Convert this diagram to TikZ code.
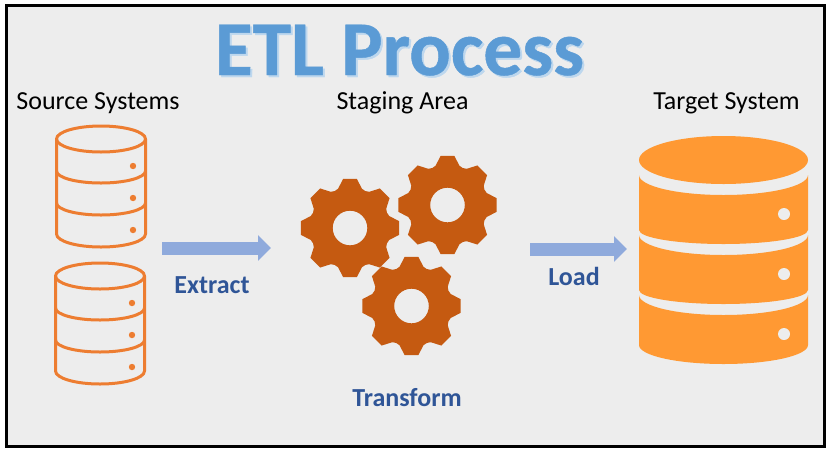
\documentclass[tikz,border=0pt]{standalone}
\usepackage{fontspec}
\setmainfont{Carlito}
\usetikzlibrary{arrows.meta}
\definecolor{bgc}{HTML}{EDEDED}
\definecolor{lineor}{HTML}{ED7D31}
\definecolor{gearc}{HTML}{C55A11}
\definecolor{bigdb}{HTML}{FF9933}
\definecolor{arrowc}{HTML}{8FAADC}
\definecolor{labelc}{HTML}{2F5597}
\definecolor{titlec}{HTML}{5B9BD5}
\definecolor{titles}{HTML}{BDD7EE}
\newfontfamily\titlefont[FakeBold=0.6]{Carlito Bold}
\tikzset{
  head/.style={font=\fontsize{26}{28}\selectfont,text=black,inner sep=0pt,anchor=base},
  tag/.style={font=\fontsize{26}{28}\selectfont\bfseries,text=labelc,inner sep=0pt,anchor=base},
  titletext/.style={font=\fontsize{77.5}{80}\titlefont,inner sep=0pt,anchor=base},
  flow/.style={draw=arrowc,line width=13pt,-{Triangle[length=13pt,width=25pt,fill=arrowc]},shorten >=0pt},
  smalldb/.pic={
    \draw[lineor,line width=3pt,line join=round]
      (-44.5,0) arc[start angle=180,end angle=0,x radius=44.5,y radius=13]
      arc[start angle=0,end angle=-180,x radius=44.5,y radius=13] -- cycle;
    \draw[lineor,line width=3pt,line join=round]
      (-44.5,0) -- (-44.5,95) arc[start angle=180,end angle=0,x radius=44.5,y radius=13] -- (44.5,0);
    \foreach \yy in {32,64}
      \draw[lineor,line width=3pt] (-44.5,\yy) arc[start angle=180,end angle=0,x radius=44.5,y radius=12];
    \foreach \yy in {27,59,91}
      \fill[lineor] (32,\yy) circle[radius=3.2];
  },
  gear/.pic={
    \fill[gearc,even odd rule]
      (-8:49.5)
      \foreach \a in {0,45,...,315}{
        -- (\a-8:49.5) -- (\a+8:49.5) -- (\a+17:41) -- (\a+22.5:40) -- (\a+28:41)
      } -- cycle
      (0,0) circle[radius=17.3];
  },
}
\begin{document}
\begin{tikzpicture}[x=1pt,y=-1pt]
\useasboundingbox (0,0) rectangle (830,451);
\fill[white] (0,0) rectangle (830,451);
\draw[black,line width=3pt,fill=bgc] (6.5,5.5) rectangle (824.5,446);

% title
\node[titletext,text=titles] (titleshadow) at (401.5,77) {ETL Process};
\node[titletext,text=titlec] (title) at (399.5,75) {ETL Process};

% headings
\node[head] (src) at (98,109) {Source Systems};
\node[head] (stage) at (402.5,109) {Staging Area};
\node[head] (tgt) at (726.5,109) {Target System};

% source databases
\pic at (101,139) {smalldb};
\pic at (100,276) {smalldb};

% gears
\pic at (350,228) {gear};
\pic at (447.5,205) {gear};
\pic at (411.5,306) {gear};

% target database
\fill[bigdb] (639,160) arc[start angle=180,end angle=540,x radius=84.5,y radius=24];
\fill[bigdb] (639,175) arc[start angle=180,end angle=0,x radius=84.5,y radius=20]
  -- (808,230) arc[start angle=0,end angle=180,x radius=84.5,y radius=14] -- cycle;
\fill[bigdb] (639,235) arc[start angle=180,end angle=0,x radius=84.5,y radius=20]
  -- (808,290) arc[start angle=0,end angle=180,x radius=84.5,y radius=14] -- cycle;
\fill[bigdb] (639,295) arc[start angle=180,end angle=0,x radius=84.5,y radius=20]
  -- (808,345) arc[start angle=0,end angle=180,x radius=84.5,y radius=19] -- cycle;
\foreach \yy in {214,274,334}
  \fill[bgc] (784,\yy) circle[radius=6];

% arrows
\coordinate (srcout) at (162,248);
\coordinate (gearin) at (271,248);
\coordinate (gearout) at (530,249);
\coordinate (tgtin) at (627,249);
\draw[flow] (srcout) -- (gearin);
\draw[flow] (gearout) -- (tgtin);

% labels
\node[tag] (ext) at (212,293) {Extract};
\node[tag] (load) at (574,285) {Load};
\node[tag] (trans) at (407,406) {Transform};
\end{tikzpicture}
\end{document}
